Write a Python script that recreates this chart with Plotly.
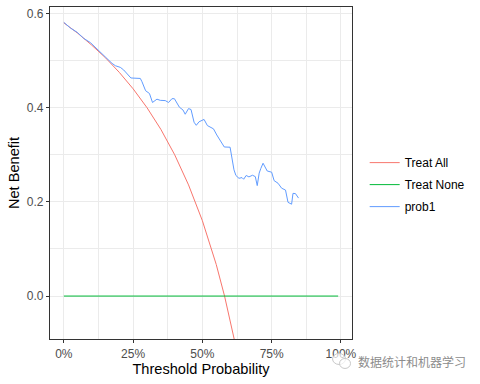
import plotly.graph_objects as go

threshold_all = [0.00, 0.05, 0.10, 0.15, 0.20, 0.25, 0.30, 0.35, 0.40, 0.45, 0.50, 0.53, 0.55, 0.58, 0.60, 0.62, 0.65]
benefit_all = [0.580, 0.558, 0.533, 0.506, 0.475, 0.440, 0.400, 0.354, 0.300, 0.236, 0.160, 0.107, 0.067, 0.000, -0.050, -0.105, -0.200]

threshold_none = [0.00, 0.25, 0.50, 0.75, 0.99]
benefit_none = [0, 0, 0, 0, 0]

threshold_prob1 = [0.000, 0.024, 0.048, 0.072, 0.096, 0.126, 0.150, 0.174, 0.186, 0.204, 0.216, 0.242, 0.276, 0.282,
                   0.295, 0.309, 0.320, 0.336, 0.348, 0.366, 0.378, 0.390, 0.399, 0.417, 0.430, 0.438, 0.450, 0.459,
                   0.470, 0.478, 0.488, 0.506, 0.518, 0.540, 0.552, 0.564, 0.579, 0.600, 0.606, 0.614, 0.621, 0.632,
                   0.643, 0.649, 0.658, 0.668, 0.681, 0.691, 0.698, 0.705, 0.711, 0.719, 0.734, 0.750, 0.759, 0.773,
                   0.786, 0.800, 0.809, 0.822, 0.827, 0.836, 0.847]
benefit_prob1 = [0.581, 0.569, 0.560, 0.547, 0.538, 0.521, 0.506, 0.494, 0.489, 0.4855, 0.480, 0.463, 0.462, 0.455,
                 0.436, 0.430, 0.411, 0.418, 0.4155, 0.415, 0.411, 0.419, 0.419, 0.401, 0.395, 0.386, 0.398, 0.396,
                 0.369, 0.3625, 0.370, 0.375, 0.362, 0.355, 0.342, 0.330, 0.3165, 0.316, 0.296, 0.268, 0.256, 0.250,
                 0.2515, 0.248, 0.256, 0.253, 0.2565, 0.2535, 0.2345, 0.261, 0.271, 0.282, 0.2655, 0.263, 0.245, 0.2395,
                 0.229, 0.225, 0.199, 0.195, 0.218, 0.2175, 0.208]

x_ticks = [0, 0.25, 0.5, 0.75, 1.0]
x_labels = ["0%", "25%", "50%", "75%", "100%"]
y_ticks = [0.0, 0.2, 0.4, 0.6]
y_labels = ["0.0", "0.2", "0.4", "0.6"]
watermark = "数据统计和机器学习"

FONT = "Liberation Sans, Arial, sans-serif"
GRID = "#EBEBEB"
INK = "#333333"

fig = go.Figure()
series = [("Treat All", threshold_all, benefit_all, "#F8766D"),
          ("Treat None", threshold_none, benefit_none, "#00BA38"),
          ("prob1", threshold_prob1, benefit_prob1, "#619CFF")]
for name, xs, ys, col in series:
    fig.add_trace(go.Scatter(x=xs, y=ys, mode="lines", name=name, legendgroup=name,
                             line=dict(color=col, width=1)))

axis_common = dict(showline=True, linecolor=INK, linewidth=1.4, mirror=True,
                   ticks="outside", ticklen=3, tickcolor=INK, tickwidth=1,
                   showgrid=True, gridcolor=GRID, gridwidth=1, zeroline=False,
                   tickfont=dict(family=FONT, size=12, color="#4D4D4D"))

fig.update_xaxes(range=[-0.05, 1.04], tickvals=x_ticks, ticktext=x_labels,
                 minor=dict(tickvals=[0.125, 0.375, 0.625, 0.875], showgrid=True, gridcolor=GRID, gridwidth=1, ticks=""),
                 title=dict(text="Threshold Probability", font=dict(family=FONT, size=14.6, color="black"), standoff=3),
                 **axis_common)
fig.update_yaxes(range=[-0.0912, 0.6137], tickvals=y_ticks, ticktext=y_labels,
                 minor=dict(tickvals=[0.1, 0.3, 0.5], showgrid=True, gridcolor=GRID, gridwidth=1, ticks=""),
                 title=dict(text="Net Benefit", font=dict(family=FONT, size=14.6, color="black"), standoff=3),
                 **axis_common)

icon = dict(type="circle", xref="paper", yref="paper", line=dict(color="#C8C8C8", width=1), fillcolor="rgba(255,255,255,0.7)")
W, H = 303.0, 332.5
def px(x): return (x - 49.5) / W
def py(y): return (339.5 - y) / H

fig.update_layout(
    width=480, height=384,
    margin=dict(l=49.5, r=127.5, t=7, b=44.5, autoexpand=False),
    paper_bgcolor="white", plot_bgcolor="white",
    font=dict(family=FONT),
    legend=dict(x=1.042, xanchor="left", y=0.465, yanchor="middle", font=dict(family=FONT, size=12, color="black"),
                traceorder="grouped", tracegroupgap=3, itemwidth=30, bgcolor="rgba(0,0,0,0)"),
    shapes=[dict(icon, x0=px(333), x1=px(346), y0=py(365), y1=py(354)),
            dict(icon, x0=px(340), x1=px(351), y0=py(369), y1=py(359))],
    annotations=[dict(text=watermark, xref="paper", yref="paper", x=px(357), y=py(362), xanchor="left", yanchor="middle",
                      showarrow=False, font=dict(family="Noto Sans CJK SC", size=12, color="#8C8C8C"))],
)
fig.write_html("out.html", config={"displayModeBar": False},
               post_script="document.body.style.margin='0';document.documentElement.style.overflow='hidden';")
